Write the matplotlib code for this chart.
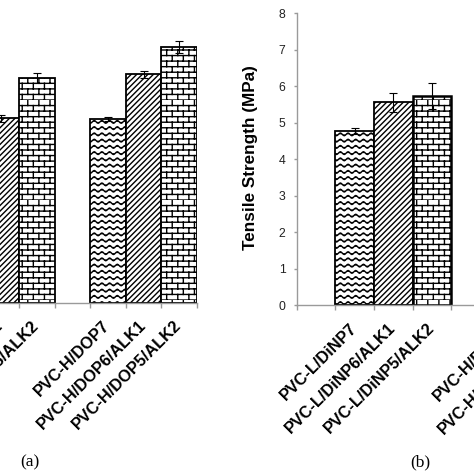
import numpy as np
import matplotlib
matplotlib.use("Agg")
import matplotlib.pyplot as plt
import matplotlib.hatch as mhatch
import matplotlib.transforms as mtransforms
from matplotlib.path import Path

# ---------------- data ----------------
# panel (a): slots 0..7 (slot 0 blank; slot 1 out of view; slot 4 blank gap)
a_labels = ["", "PVC-L/DOP7", "PVC-L/DOP6/ALK1", "PVC-L/DOP5/ALK2", "",
            "PVC-H/DOP7", "PVC-H/DOP6/ALK1", "PVC-H/DOP5/ALK2"]
a_slots = [2, 3, 5, 6, 7]
a_values = [5.05, 6.16, 5.03, 6.26, 7.01]
a_errors = [0.09, 0.13, 0.06, 0.10, 0.16]
a_patterns = ["diag", "brick", "wave", "diag", "brick"]

# panel (b)
b_labels = ["", "PVC-L/DiNP7", "PVC-L/DiNP6/ALK1", "PVC-L/DiNP5/ALK2", "",
            "PVC-H/DiNP7", "PVC-H/DiNP6/ALK1", "PVC-H/DiNP5/ALK2"]
b_slots = [1, 2, 3]
b_values = [4.78, 5.56, 5.73]
b_errors = [0.08, 0.26, 0.35]
b_patterns = ["wave", "diag", "brick"]

y_ticks = [0, 1, 2, 3, 4, 5, 6, 7, 8]
y_label = "Tensile Strength (MPa)"

# ---------------- custom hatches ----------------
class WaveHatch(mhatch.HatchPatternBase):
    def __init__(self, hatch, density):
        n = hatch.count('w')
        self.rows = 16 * n
        self.periods = 13 * n
        self.sub = 8
        self.m = self.periods * self.sub + 1
        self.num_vertices = self.rows * self.m if n else 0

    def set_vertices_and_codes(self, vertices, codes):
        amp = 0.22 / self.rows
        xs = np.linspace(0, 1, self.m)
        offs = amp * np.sin(2 * np.pi * self.periods * xs)
        k = 0
        for r in range(self.rows):
            y0 = (r + 0.5) / self.rows
            vertices[k:k + self.m, 0] = xs
            vertices[k:k + self.m, 1] = y0 + offs
            codes[k] = Path.MOVETO
            codes[k + 1:k + self.m] = Path.LINETO
            k += self.m


class BrickHatch(mhatch.HatchPatternBase):
    def __init__(self, hatch, density):
        n = hatch.count('b')
        self.rows = 18 * n
        self.cols = 9 * n
        self.num_vertices = (2 * self.rows + 2 * self.rows * self.cols) if n else 0

    def set_vertices_and_codes(self, vertices, codes):
        k = 0
        for r in range(self.rows):
            y = r / self.rows
            vertices[k] = (0.0, y)
            vertices[k + 1] = (1.0, y)
            codes[k] = Path.MOVETO
            codes[k + 1] = Path.LINETO
            k += 2
        for r in range(self.rows):
            y0 = r / self.rows
            y1 = (r + 1) / self.rows
            off = 0.0 if r % 2 == 0 else 0.5 / self.cols
            for c in range(self.cols):
                x = c / self.cols + off
                vertices[k] = (x, y0)
                vertices[k + 1] = (x, y1)
                codes[k] = Path.MOVETO
                codes[k + 1] = Path.LINETO
                k += 2


mhatch._hatch_types.append(WaveHatch)
mhatch._hatch_types.append(BrickHatch)
mhatch._validate_hatch_pattern = lambda hatch: None

hatch_map = {"wave": "w", "diag": "//////", "brick": "b"}

plt.rcParams["hatch.linewidth"] = 1.0
plt.rcParams["hatch.color"] = "black"

# ---------------- figure ----------------
W = H = 474.0
fig = plt.figure(figsize=(4.74, 4.74), dpi=100)

GRAY = "#9a9a9a"


def make_axes(left_px, slot_px, base_px, unit_px):
    width = 8 * slot_px
    height = 8 * unit_px
    return fig.add_axes([left_px / W, (H - base_px) / H, width / W, height / H])


def style(ax, labels):
    ax.set_xlim(0, 8)
    ax.set_ylim(0, 8)
    for s in ["top", "right"]:
        ax.spines[s].set_visible(False)
    ax.spines["bottom"].set_color(GRAY)
    ax.spines["left"].set_color(GRAY)
    ax.spines["bottom"].set_linewidth(1.0)
    ax.spines["left"].set_linewidth(1.0)
    ax.set_xticks(np.arange(len(labels)) + 0.5)
    ax.set_xticklabels(labels, rotation=45, ha="right",
                       fontsize=11.8, fontweight="bold", family="Liberation Sans")
    ax.set_xticks(np.arange(0, 9), minor=True)
    ax.tick_params(axis="x", which="major", length=0, pad=11)
    ax.tick_params(axis="x", which="minor", length=3.5, color=GRAY, width=1.0)
    ax.set_yticks(y_ticks)
    ax.tick_params(axis="y", length=2.5, color=GRAY, width=1.0, pad=5.5,
                   labelsize=8.8, labelcolor="#222222")
    for t in ax.get_yticklabels():
        t.set_family("Liberation Sans")


def shift_xlabels(ax, dx_px):
    shift = mtransforms.ScaledTranslation(dx_px / 100, 0, fig.dpi_scale_trans)
    for t in ax.get_xticklabels():
        t.set_transform(t.get_transform() + shift)


def draw(ax, slots, values, errors, patterns, edge_lws):
    x = np.array(slots) + 0.5
    for xi, v, p, lw in zip(x, values, patterns, edge_lws):
        ax.bar(xi, v, width=1.0, color="white", edgecolor="black",
               linewidth=lw, hatch=hatch_map[p], zorder=2)
    ax.errorbar(x, values, yerr=errors, fmt="none", ecolor="black",
                elinewidth=0.8, capsize=3, capthick=0.8, zorder=3)


# panel (a) – mostly cropped on the left
ax_a = make_axes(-87.8, 35.6, 302.5, 36.46)
style(ax_a, a_labels)
draw(ax_a, a_slots, a_values, a_errors, a_patterns, [1.3, 1.3, 1.3, 1.3, 1.3])

# panel (b)
ax_b = make_axes(296.5, 38.7, 305.0, 36.46)
style(ax_b, b_labels)
draw(ax_b, b_slots, b_values, b_errors, b_patterns, [1.3, 1.3, 1.8])
ax_b.set_ylabel(y_label, fontsize=12.3, fontweight="bold", family="Liberation Sans")
ax_b.yaxis.set_label_coords((258 - 296.5) / (8 * 38.7), 0.506)

shift_xlabels(ax_a, 5)
shift_xlabels(ax_b, 5)

fig.text(30 / W, 1 - 462 / H, "(a)", ha="center", va="center",
         fontsize=12.5, family="Liberation Serif")
fig.text(420 / W, 1 - 462 / H, "(b)", ha="center", va="center",
         fontsize=12.5, family="Liberation Serif")

fig.savefig("out.png", dpi=100)
